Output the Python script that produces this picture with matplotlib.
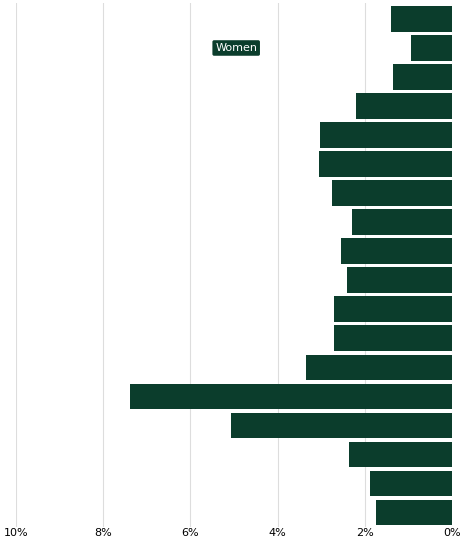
import matplotlib
matplotlib.use("Agg")
import matplotlib.pyplot as plt

age_groups = ["85+","80-84","75-79","70-74","65-69","60-64","55-59","50-54","45-49",
              "40-44","35-39","30-34","25-29","20-24","15-19","10-14","5-9","0-4"]
women_pct = [1.40,0.94,1.35,2.20,3.03,3.05,2.75,2.29,2.55,2.41,2.71,2.71,3.35,7.39,5.07,2.36,1.88,1.74]
xticks = [10,8,6,4,2,0]
xlabels = ["10%","8%","6%","4%","2%","0%"]

color = "#0b3d2c"
fig = plt.figure(figsize=(4.74,5.41), dpi=100)
ax = fig.add_axes([16/474, 0.026, (452-16)/474, 0.969])
y = list(range(len(age_groups)))[::-1]
ax.barh(y, women_pct, height=0.88, color=color, zorder=2)
ax.set_xlim(10,0)
ax.set_ylim(-0.5, len(age_groups)-0.44)
ax.set_xticks(xticks)
ax.set_xticklabels(xlabels, fontsize=8)
ax.set_yticks([])
ax.tick_params(axis='x', length=0, pad=1)
ax.grid(axis='x', color='#dddddd', linewidth=0.8, zorder=0)
for s in ax.spines.values():
    s.set_visible(False)
ax.text(4.95, 16.0, "Women", color="white", fontsize=8, ha="center", va="center",
        bbox=dict(boxstyle="round,pad=0.25,rounding_size=0.15", fc=color, ec="none"), zorder=3)
fig.savefig("out.png", dpi=100)
